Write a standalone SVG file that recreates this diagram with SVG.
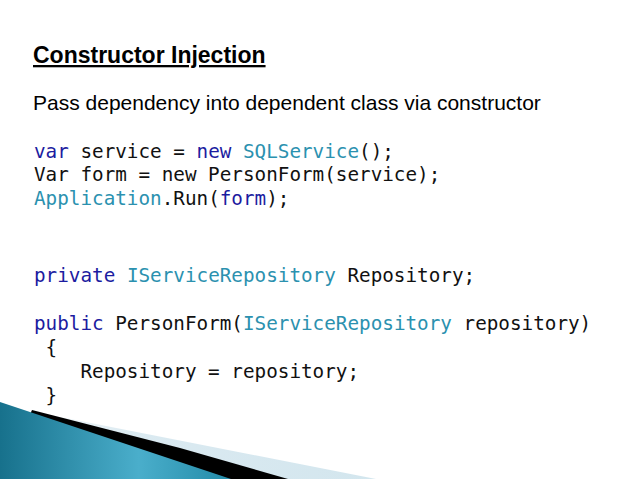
<svg xmlns="http://www.w3.org/2000/svg" width="638" height="479" viewBox="0 0 638 479">
<defs>
<style>
.sans{font-family:"Liberation Sans",Arial,sans-serif;fill:#000}
.title{font-size:23px;font-weight:bold;text-decoration:underline}
.body{font-size:21px}
.code{font-family:"DejaVu Sans Mono","Liberation Mono",monospace;font-size:19.3px;fill:#111;white-space:pre}
.kw{fill:#1c1ca0}
.ty{fill:#2b91af}
</style>
<linearGradient id="teal" x1="0" y1="0" x2="1" y2="0">
<stop offset="0" stop-color="#17718c"/>
<stop offset="0.6" stop-color="#4aaecb"/>
<stop offset="1" stop-color="#238ba8"/>
</linearGradient>
<linearGradient id="pale" x1="0" y1="0" x2="1" y2="0">
<stop offset="0" stop-color="#ffffff"/>
<stop offset="0.35" stop-color="#dbeaf1"/>
<stop offset="1" stop-color="#d3e6ee"/>
</linearGradient>
</defs>
<rect width="638" height="479" fill="#ffffff"/>
<g id="decoration">
<polygon points="40,413 376,479 0,479" fill="url(#pale)"/>
<polygon points="32,410 180,448 288,479 0,479" fill="#000"/>
<polygon points="0,402 231,479 0,479" fill="url(#teal)"/>
</g>
<g id="heading">
<text class="sans title" x="33" y="63">Constructor Injection</text>
<text class="sans body" x="33" y="110">Pass dependency into dependent class via constructor</text>
</g>
<g id="code">
<text class="code" x="34" y="157.5"><tspan class="kw">var</tspan> service = <tspan class="kw">new</tspan> <tspan class="ty">SQLService</tspan>();</text>
<text class="code" x="34" y="181">Var form = new PersonForm(service);</text>
<text class="code" x="34" y="204.5"><tspan class="ty">Application</tspan>.Run(<tspan class="kw">form</tspan>);</text>
<text class="code" x="34" y="282"><tspan class="kw">private</tspan> <tspan class="ty">IServiceRepository</tspan> Repository;</text>
<text class="code" x="34" y="330"><tspan class="kw">public</tspan> PersonForm(<tspan class="ty">IServiceRepository</tspan> repository)</text>
<text class="code" x="34" y="354"> {</text>
<text class="code" x="34" y="378">    Repository = repository;</text>
<text class="code" x="34" y="402"> }</text>
</g>
</svg>
